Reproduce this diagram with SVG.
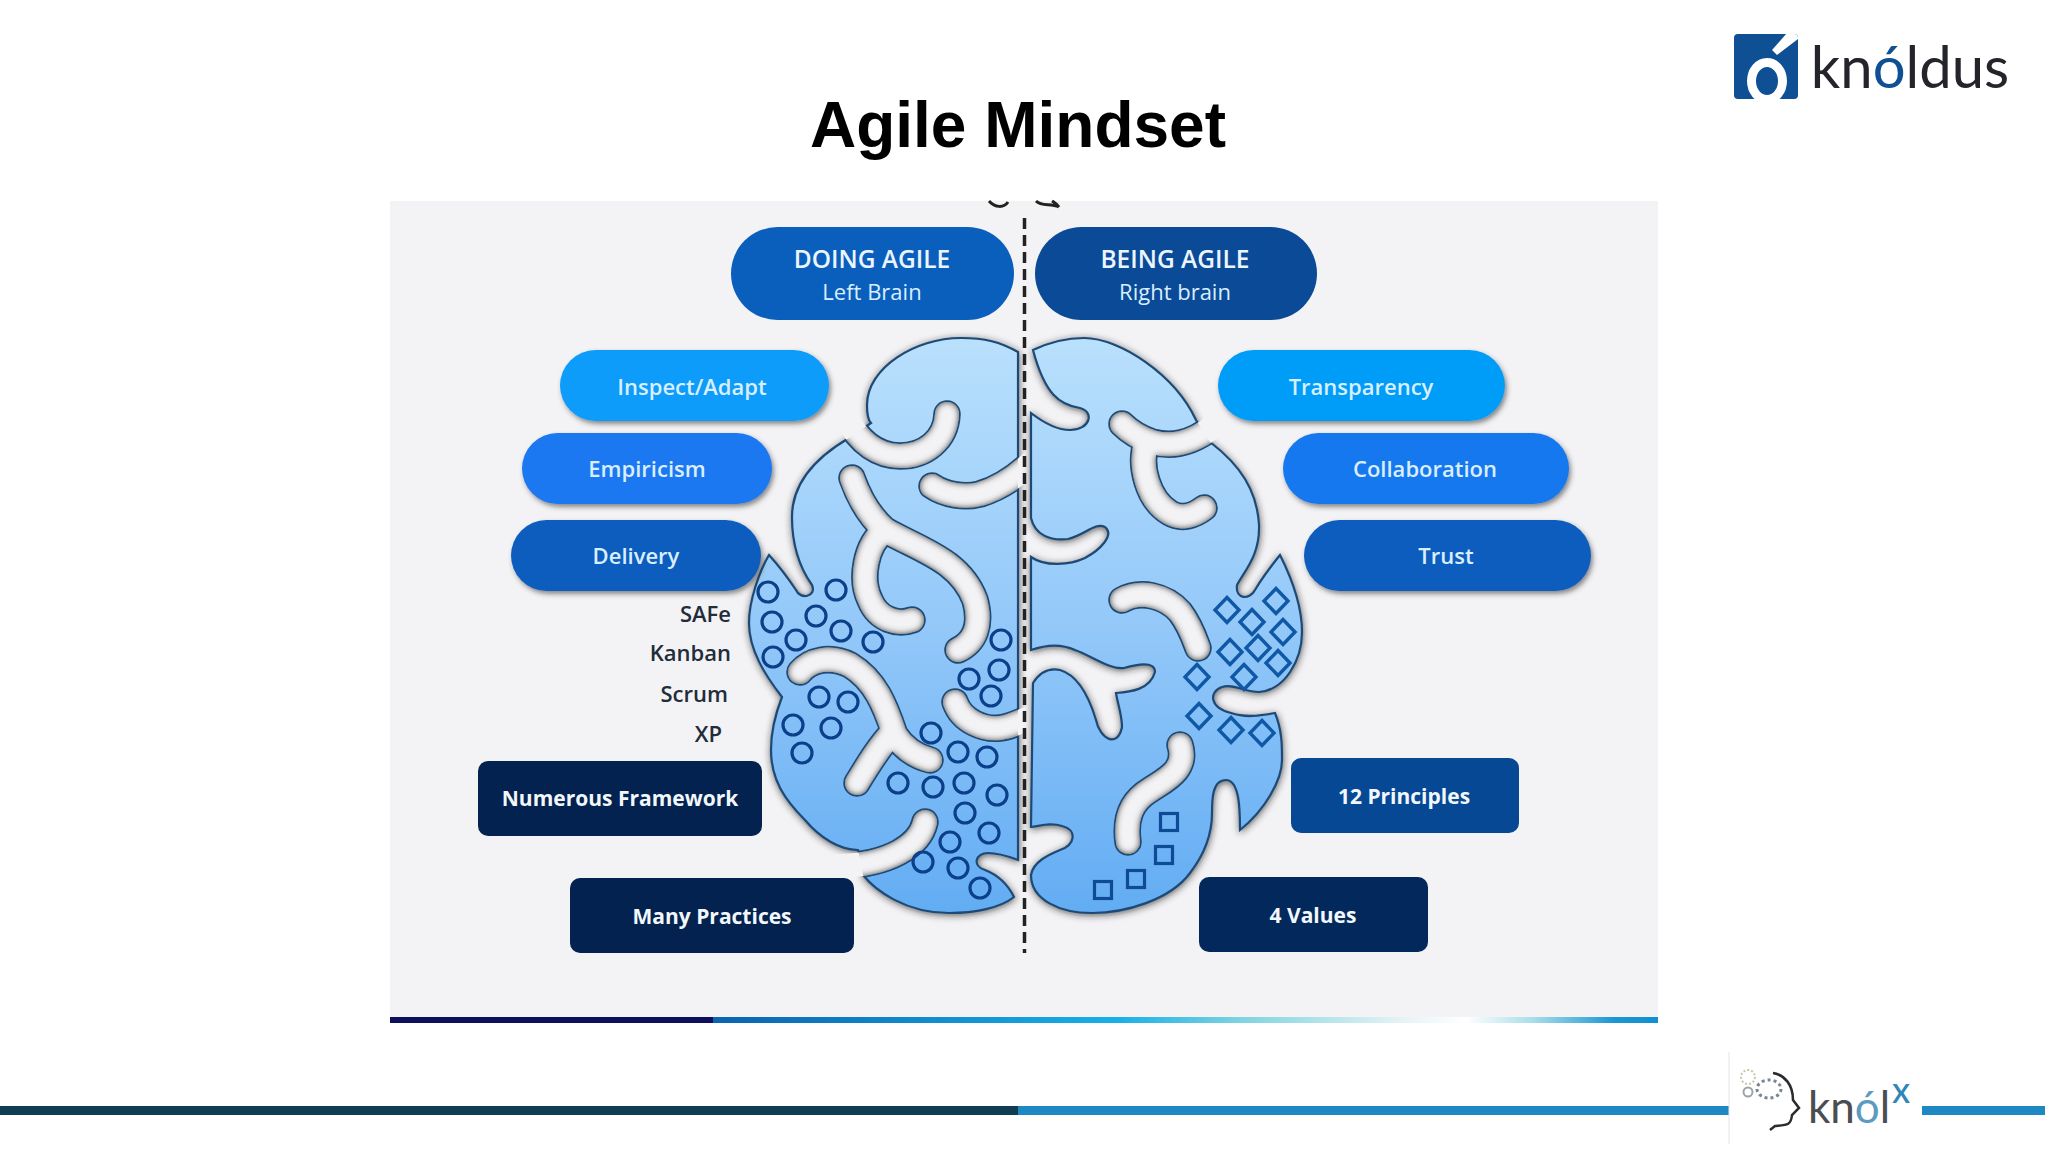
<svg xmlns="http://www.w3.org/2000/svg" width="2048" height="1152" viewBox="0 0 2048 1152">
<defs>
<style>
text{font-family:"Open Sans","Liberation Sans",sans-serif;text-anchor:middle}
.lab{font-size:22px;fill:#d9eeff;font-weight:600}
.dark{font-size:21px;fill:#f2f7fc;font-weight:700}
.head{font-size:24.5px;fill:#eaf5ff;font-weight:600}
.sub{font-size:22px;fill:#d9eeff;font-weight:500}
.fw{font-size:22px;fill:#222c3a;font-weight:600;text-anchor:end}
.br{fill:url(#brainFill);stroke:#1f4a74;stroke-width:2.2;filter:url(#soft)}
.gd{fill:none;stroke:#1f4a74;stroke-width:27.5;stroke-linecap:round;stroke-linejoin:round}
.gl{fill:none;stroke:#f3f3f5;stroke-width:24;stroke-linecap:round;stroke-linejoin:round}
.c{fill:none;stroke:#0b3f8a;stroke-width:3.2}
.d{fill:none;stroke:#0f58a6;stroke-width:3.4}
.s{fill:none;stroke:#0f4a94;stroke-width:3.2}
</style>
<linearGradient id="brainFill" gradientUnits="userSpaceOnUse" x1="0" y1="340" x2="0" y2="915"><stop offset="0" stop-color="#b9e0fc"/><stop offset=".5" stop-color="#93c8f9"/><stop offset="1" stop-color="#62acf3"/></linearGradient>
<linearGradient id="barFill" x1="0" y1="0" x2="1" y2="0"><stop offset="0" stop-color="#0a63b0"/><stop offset=".43" stop-color="#18b0e8"/><stop offset=".56" stop-color="#7fd4e0"/><stop offset=".735" stop-color="#e8f4f6"/><stop offset=".797" stop-color="#ffffff"/><stop offset=".867" stop-color="#a8deea"/><stop offset=".954" stop-color="#1a96d4"/><stop offset="1" stop-color="#1090d0"/></linearGradient>
<filter id="soft" x="-15%" y="-15%" width="130%" height="130%"><feDropShadow dx="0.5" dy="1.5" stdDeviation="3.5" flood-color="#222" flood-opacity=".7"/></filter>
<filter id="pill" x="-10%" y="-25%" width="120%" height="150%"><feDropShadow dx="2" dy="3" stdDeviation="2.5" flood-color="#333" flood-opacity=".55"/></filter>
<filter id="inner" filterUnits="userSpaceOnUse" x="700" y="300" width="650" height="650"><feFlood flood-color="#444"/><feComposite in2="SourceAlpha" operator="out"/><feGaussianBlur stdDeviation="3"/><feComposite in2="SourceAlpha" operator="in"/></filter>
<path id="leftShape" d="M1018,352 C1000,342 985,338 961,338 C915,338 867,368 867,405 C867,415 868,420 871,423 L849,438 C820,455 792,480 792,517 C792,545 800,568 812,585 C817,597 800,600 796,590 C788,578 778,565 769,555 C760,570 749,600 749,623 C749,650 765,675 782,697 C775,715 771,730 771,750 C771,780 785,800 805,820 C820,838 840,850 858,850 L863,875 C875,890 905,913 949,913 C975,913 1000,908 1014,897 C1008,885 998,875 985,870 C972,866 975,853 988,853 C1000,853 1010,857 1018,860 Z"/>
<path id="rightShape" d="M1033,350 C1050,342 1065,338 1084,338 C1120,338 1175,375 1196,420 L1210,442 C1240,465 1257,490 1259,525 C1260,555 1245,570 1237,585 C1235,600 1250,600 1255,590 C1262,578 1272,565 1280,555 C1290,575 1302,605 1302,632 C1302,660 1285,690 1259,692 C1245,692 1232,683 1222,687 C1208,692 1210,708 1231,713 C1245,718 1260,716 1275,713 C1282,730 1282,745 1282,760 C1282,780 1265,810 1240,830 C1240,812 1240,780 1226,780 C1212,780 1212,800 1212,813 C1212,840 1200,860 1190,873 C1170,900 1125,913 1092,913 C1060,913 1031,900 1031,875 C1033,862 1048,855 1060,850 C1075,845 1078,830 1062,826 C1050,822 1040,826 1031,827 L1033,683 C1040,672 1050,668 1060,670 C1080,676 1090,700 1096,720 C1100,740 1118,748 1122,727 C1122,715 1118,705 1116,693 C1130,692 1150,690 1155,672 C1155,660 1135,665 1124,668 C1110,670 1090,655 1075,650 C1060,643 1045,645 1031,650 L1031,557 C1045,567 1070,565 1085,558 C1100,550 1115,535 1105,527 C1095,522 1085,535 1068,539 C1050,541 1035,535 1031,518 L1031,413 C1040,420 1055,430 1070,430 C1090,430 1095,412 1080,408 C1060,405 1045,395 1033,350 Z"/>
<path id="leftGrooves" d="M947,414 C946,440 925,456 900,456 C880,456 860,445 845,415 M932,486 C945,495 965,498 980,494 C1000,488 1015,478 1032,462 M852,478 C858,495 868,515 885,530 C920,550 960,560 975,600 C982,625 975,642 958,650 M885,530 C865,545 860,580 870,600 C878,620 898,625 912,620 M800,672 C810,660 830,655 850,665 C875,680 885,705 895,735 C905,750 918,757 930,760 M893,732 C880,745 868,765 857,783 M955,702 C962,722 985,730 1000,728 C1010,727 1020,722 1034,716 M925,822 C920,845 890,865 838,866"/>
<path id="rightGrooves" d="M1122,424 C1130,432 1140,438 1152,442 C1170,447 1190,445 1214,426 M1147,441 C1138,465 1148,500 1170,513 C1182,520 1195,515 1204,508 M1122,600 C1140,590 1165,595 1180,612 C1190,625 1195,640 1198,648 M1180,745 C1188,770 1165,780 1150,790 C1130,802 1125,820 1128,842"/>
<clipPath id="clipL"><use href="#leftShape"/></clipPath>
<clipPath id="clipR"><use href="#rightShape"/></clipPath>
<clipPath id="logoClip"><rect x="1734" y="34" width="64" height="65" rx="4"/></clipPath>
<circle id="cc" r="10" class="c"/>
<polygon id="dd" points="0,-12.5 12,0 0,12.5 -12,0" class="d"/>
<rect id="ss" x="-8.5" y="-8.5" width="17" height="17" class="s"/>
</defs>
<rect width="2048" height="1152" fill="#fff"/>
<text x="1018" y="147" style="font-family:'Liberation Sans',Arial,sans-serif;font-size:64px;font-weight:700;fill:#000">Agile Mindset</text>
<g id="panel">
<rect x="390" y="201" width="1268" height="817" fill="#f3f3f5"/>
<rect x="713" y="1017" width="945" height="6" fill="url(#barFill)"/>
<rect x="390" y="1017" width="323" height="6" fill="#0d0f5c"/>
<path d="M989,201 C995,208 1004,208 1008,202 M1036,201 C1042,207 1050,203 1059,207 M1052,201 C1055,203 1057,204 1059,207" fill="none" stroke="#222" stroke-width="3"/>
</g>
<g id="left-brain">
<use href="#leftShape" class="br"/>
<g clip-path="url(#clipL)"><use href="#leftGrooves" class="gd"/></g>
<use href="#leftGrooves" class="gl"/>
<g clip-path="url(#clipL)"><g filter="url(#inner)"><use href="#leftGrooves" class="gl"/></g></g>
<g>
<use href="#cc" x="768" y="592"/><use href="#cc" x="836" y="590"/><use href="#cc" x="772" y="622"/><use href="#cc" x="816" y="616"/><use href="#cc" x="841" y="631"/><use href="#cc" x="796" y="640"/><use href="#cc" x="873" y="642"/><use href="#cc" x="773" y="657"/><use href="#cc" x="1001" y="640"/><use href="#cc" x="999" y="670"/><use href="#cc" x="969" y="679"/><use href="#cc" x="991" y="696"/><use href="#cc" x="819" y="697"/><use href="#cc" x="848" y="702"/><use href="#cc" x="793" y="725"/><use href="#cc" x="831" y="728"/><use href="#cc" x="802" y="753"/><use href="#cc" x="931" y="733"/><use href="#cc" x="958" y="752"/><use href="#cc" x="987" y="757"/><use href="#cc" x="898" y="783"/><use href="#cc" x="933" y="787"/><use href="#cc" x="964" y="783"/><use href="#cc" x="997" y="795"/><use href="#cc" x="965" y="813"/><use href="#cc" x="989" y="833"/><use href="#cc" x="950" y="842"/><use href="#cc" x="923" y="862"/><use href="#cc" x="958" y="868"/><use href="#cc" x="980" y="888"/>
</g>
</g>
<g id="right-brain">
<use href="#rightShape" class="br"/>
<g clip-path="url(#clipR)"><use href="#rightGrooves" class="gd"/></g>
<use href="#rightGrooves" class="gl"/>
<g clip-path="url(#clipR)"><g filter="url(#inner)"><use href="#rightGrooves" class="gl"/></g></g>
<g>
<use href="#dd" x="1276" y="601"/><use href="#dd" x="1227" y="610"/><use href="#dd" x="1252" y="622"/><use href="#dd" x="1283" y="632"/><use href="#dd" x="1230" y="652"/><use href="#dd" x="1258" y="648"/><use href="#dd" x="1278" y="663"/><use href="#dd" x="1197" y="677"/><use href="#dd" x="1244" y="677"/><use href="#dd" x="1199" y="716"/><use href="#dd" x="1231" y="730"/><use href="#dd" x="1262" y="733"/>
<use href="#ss" x="1169" y="822"/><use href="#ss" x="1164" y="855"/><use href="#ss" x="1136" y="879"/><use href="#ss" x="1103" y="890"/>
</g>
</g>
<g id="connectors"><line x1="1024.5" y1="218" x2="1024.5" y2="953" stroke="#222" stroke-width="3.5" stroke-dasharray="11 6"/></g>
<g id="doing-agile"><rect x="731" y="227" width="283" height="93" rx="46.5" fill="#0a5fbd"/><text class="head" x="872" y="268">DOING AGILE</text><text class="sub" x="872" y="300">Left Brain</text></g>
<g id="being-agile"><rect x="1035" y="227" width="282" height="93" rx="46.5" fill="#0a4a97"/><text class="head" x="1175" y="268">BEING AGILE</text><text class="sub" x="1175" y="300">Right brain</text></g>
<g id="inspect-adapt"><rect x="560" y="350" width="269" height="71" rx="35.5" fill="#0a9cfa" filter="url(#pill)"/><text class="lab" x="692" y="395">Inspect/Adapt</text></g>
<g id="empiricism"><rect x="522" y="433" width="250" height="71" rx="35.5" fill="#1a78f0" filter="url(#pill)"/><text class="lab" x="647" y="477">Empiricism</text></g>
<g id="delivery"><rect x="511" y="520" width="250" height="71" rx="35.5" fill="#0a5dbf" filter="url(#pill)"/><text class="lab" x="636" y="564">Delivery</text></g>
<g id="transparency"><rect x="1218" y="350" width="287" height="71" rx="35.5" fill="#069df8" filter="url(#pill)"/><text class="lab" x="1361" y="395">Transparency</text></g>
<g id="collaboration"><rect x="1283" y="433" width="286" height="71" rx="35.5" fill="#1878ee" filter="url(#pill)"/><text class="lab" x="1425" y="477">Collaboration</text></g>
<g id="trust"><rect x="1304" y="520" width="287" height="71" rx="35.5" fill="#0a5dbf" filter="url(#pill)"/><text class="lab" x="1446" y="564">Trust</text></g>
<g id="frameworks-list"><text class="fw" x="731" y="622">SAFe</text><text class="fw" x="731" y="661">Kanban</text><text class="fw" x="728" y="702">Scrum</text><text class="fw" x="722" y="742">XP</text></g>
<g id="numerous-framework"><rect x="478" y="761" width="284" height="75" rx="10" fill="#03224f"/><text class="dark" x="620" y="806">Numerous Framework</text></g>
<g id="many-practices"><rect x="570" y="878" width="284" height="75" rx="10" fill="#03224f"/><text class="dark" x="712" y="924">Many Practices</text></g>
<g id="twelve-principles"><rect x="1291" y="758" width="228" height="75" rx="10" fill="#064893"/><text class="dark" x="1404" y="804">12 Principles</text></g>
<g id="four-values"><rect x="1199" y="877" width="229" height="75" rx="10" fill="#03295c"/><text class="dark" x="1313" y="923">4 Values</text></g>
<g id="footer">
<rect x="0" y="1106" width="1018" height="9" fill="#0f3d52"/>
<rect x="1018" y="1106" width="711" height="9" fill="#1e88c4"/>
<rect x="1922" y="1106" width="123" height="9" fill="#1e88c4"/>
<line x1="1729" y1="1052" x2="1729" y2="1144" stroke="#e4e4e8"/>
</g>
<g id="knoldus-logo">
<rect x="1734" y="34" width="64" height="65" rx="4" fill="#0f4f94"/>
<g clip-path="url(#logoClip)"><ellipse cx="1767" cy="81" rx="15.5" ry="18.5" fill="none" stroke="#fff" stroke-width="9"/><polygon points="1772,50 1777,55 1798,39 1798,33 1787,33" fill="#fff"/></g>
<text x="1910" y="88" style="font-family:Lato,'Open Sans',sans-serif;font-size:58px;fill:#23252a">kn<tspan fill="#0f4f94">ó</tspan>ldus</text>
</g>
<g id="knolx-logo">
<path d="M1773,1073 C1785,1075 1793,1085 1793,1100 L1799,1108 L1792,1115 C1791,1125 1788,1125 1775,1126 L1770,1130" fill="none" stroke="#2b2b30" stroke-width="2.5"/>
<ellipse cx="1769" cy="1089" rx="12" ry="9" fill="none" stroke="#7a8790" stroke-width="3" stroke-dasharray="3 3"/>
<circle cx="1748" cy="1077" r="7" fill="none" stroke="#c9c6a8" stroke-width="2" stroke-dasharray="2 2"/>
<circle cx="1748" cy="1092" r="4.5" fill="none" stroke="#9aa4aa" stroke-width="2"/>
<text x="1849" y="1123" style="font-family:Lato,'Open Sans',sans-serif;font-size:44px;fill:#4a4d52">kn<tspan fill="#5a9bc0">ó</tspan>l</text>
<text x="1901" y="1103" style="font-family:Lato,'Open Sans',sans-serif;font-size:36px;font-weight:500;fill:#2f86b8">x</text>
</g>
</svg>
